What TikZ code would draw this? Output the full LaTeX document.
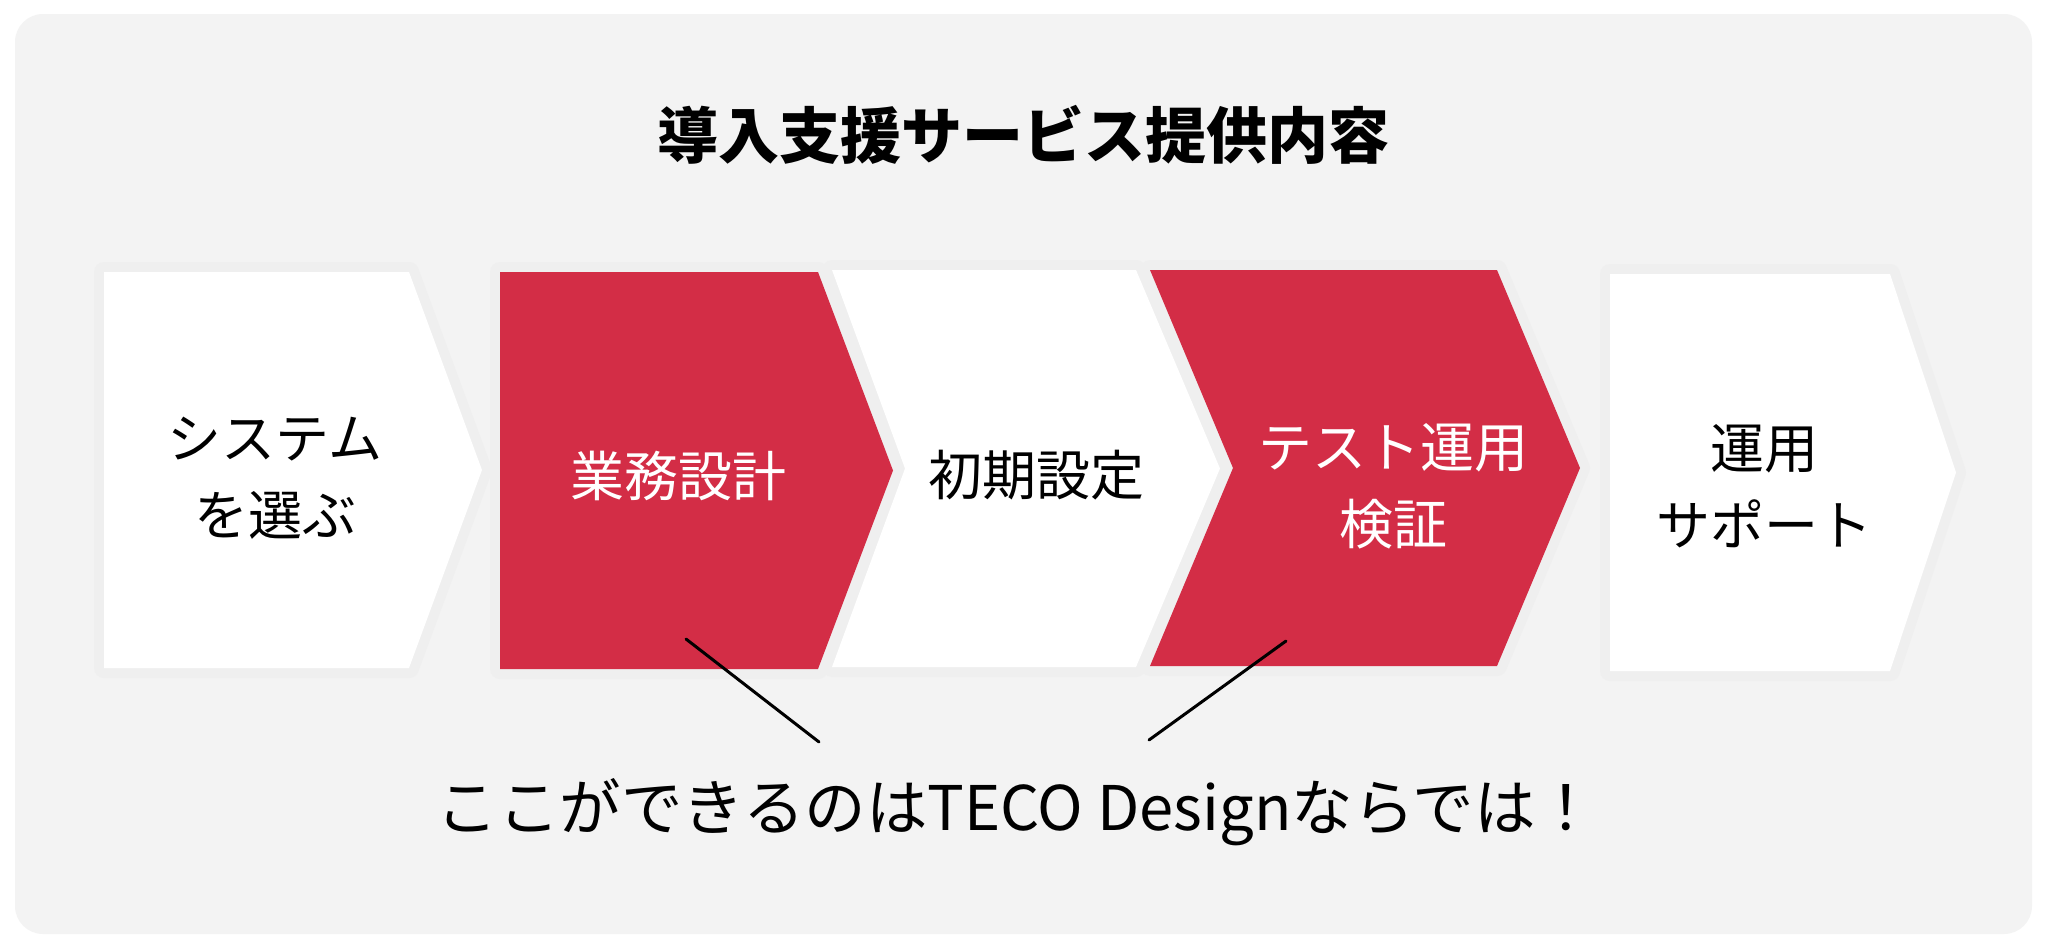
\documentclass[tikz,border=0pt]{standalone}
\usepackage{fontspec}
\newfontfamily\jpfont{Noto Sans CJK JP}
\usetikzlibrary{calc}
\definecolor{panel-gray}{HTML}{F3F3F3}
\definecolor{halo-gray}{HTML}{EFEFEF}
\definecolor{teco-red}{RGB}{211,45,70}
\tikzstyle{halo}=[draw=halo-gray,line width=20pt,line join=round]
\tikzstyle{steplabel}=[font=\jpfont\fontsize{54}{77}\selectfont,align=center,inner sep=0pt]
\tikzstyle{pointer}=[line width=3pt,line cap=round]
\newcommand{\chevron}[7][fill=white]{% [path options] {left}{notch}{right}{tip}{top}{bottom}
\pgfmathsetmacro{\ymid}{(#6+#7)/2}
\path[#1] (#2,#6) -- (#4,#6) -- (#5,\ymid) -- (#4,#7) -- (#2,#7) -- (#3,\ymid) -- cycle;
}
\begin{document}
\begin{tikzpicture}[x=1pt,y=-1pt]
	\useasboundingbox (0,0) rectangle (2048,951);
	\fill[white] (0,0) rectangle (2048,951);
	\fill[panel-gray,rounded corners=28pt] (15,14) rectangle (2032,934);
	\node[font=\jpfont\bfseries\fontsize{61}{70}\selectfont,inner sep=0pt] (title) at (1023,135) {導入支援サービス提供内容};
	% halos first, so that no halo covers a neighbour
	\foreach \l/\n/\r/\t/\a/\b in {104/104/409/482/272/668,500/500/818/893/272/669,832/905/1136/1220/270/667,1150/1233/1497/1580/270/666,1610/1610/1890/1956/274/671}
	  \chevron[halo]{\l}{\n}{\r}{\t}{\a}{\b};
	\foreach \l/\n/\r/\t/\a/\b/\c in {104/104/409/482/272/668/white,500/500/818/893/272/669/teco-red,832/905/1136/1220/270/667/white,1150/1233/1497/1580/270/666/teco-red,1610/1610/1890/1956/274/671/white}
	  \chevron[fill=\c]{\l}{\n}{\r}{\t}{\a}{\b};
	\node[steplabel] (select) at (275,478) {システム\\を選ぶ};
	\node[steplabel,text=white] (design) at (678,476) {業務設計};
	\node[steplabel] (setup) at (1036,475) {初期設定};
	\node[steplabel,text=white] (trial) at (1393,486) {テスト運用\\検証};
	\node[steplabel] (support) at (1764,486) {運用\\サポート};
	\node[font=\jpfont\fontsize{61.5}{70}\selectfont,inner sep=0pt] (note) at (1017,812) {ここができるのはTECO Designならでは！};
	\coordinate (designfoot) at (686,639);
	\coordinate (noteleft) at (819,742);
	\coordinate (trialfoot) at (1286,641);
	\coordinate (noteright) at (1149,740);
	\draw[pointer] (designfoot) -- (noteleft);
	\draw[pointer] (trialfoot) -- (noteright);
\end{tikzpicture}
\end{document}
